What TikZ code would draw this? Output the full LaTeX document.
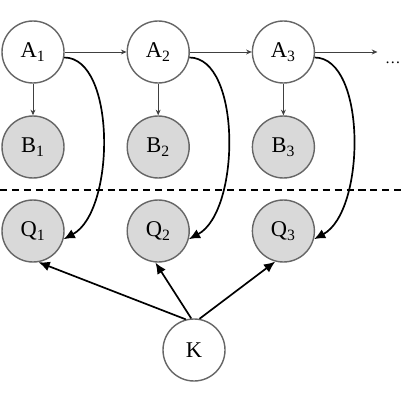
\documentclass[tikz,border=0pt]{standalone}
\usepackage{fontspec}
\setmainfont{Liberation Serif}
\usepackage{tikz}
\usetikzlibrary{positioning,arrows.meta}

\begin{document}
\begin{tikzpicture}[node distance=3.13cm,
    every node/.style={font=\fontsize{16}{18}\selectfont},
    hidden/.style={circle, draw=black!60, line width=1pt, fill=white, minimum size=1.55cm, inner sep=0pt},
    seen/.style={hidden, fill=black!15},
    thin/.style={-{Stealth[length=4pt,width=3.5pt]}, line width=0.6pt, draw=black!75},
    thick/.style={-{Latex[length=8pt,width=7pt]}, line width=1.2pt}]
        \useasboundingbox (0,0) rectangle (10.05,-10.05);
        \node[hidden]   (A1) at (0.825,-1.3)     {A\textsubscript{1}};
        \node[hidden]   (A2) [right of = A1]     {A\textsubscript{2}};
        \node[hidden]   (A3) [right of = A2]     {A\textsubscript{3}};
        \coordinate[right of = A3, node distance=2.35cm] (A4);
        \node[anchor=base east, inner sep=0pt, font=\fontsize{11}{13}\selectfont] (more) at (10.02,-1.6) {\dots};
        \node[seen]     (B1) [below of = A1, node distance=2.375cm]    {B\textsubscript{1}};
        \node[seen]     (B2) [below of = A2, node distance=2.375cm]    {B\textsubscript{2}};
        \node[seen]     (B3) [below of = A3, node distance=2.375cm]    {B\textsubscript{3}};
        \node[seen]     (Q1) [below of = B1, node distance=2.1cm]      {Q\textsubscript{1}};
        \node[seen]     (Q2) [below of = B2, node distance=2.1cm]      {Q\textsubscript{2}};
        \node[seen]     (Q3) [below of = B3, node distance=2.1cm]      {Q\textsubscript{3}};
        \node[hidden]   (K) at (4.85,-8.75)     {K};
        % observed / latent split
        \draw[dashed, dash pattern=on 5pt off 3.5pt, line width=1.2pt] (0,-4.75) -- (10.05,-4.75);
        \draw[thin] (A1) -- (A2);
        \draw[thin] (A2) -- (A3);
        \draw[thin] (A3) -- (A4);
        \draw[thin] (A1) -- (B1);
        \draw[thin] (A2) -- (B2);
        \draw[thin] (A3) -- (B3);
        \draw[thick] (A1.-10) .. controls +(1.3,0) and +(1.3,0.7) .. (Q1.-15);
        \draw[thick] (A2.-10) .. controls +(1.3,0) and +(1.3,0.7) .. (Q2.-15);
        \draw[thick] (A3.-10) .. controls +(1.3,0) and +(1.3,0.7) .. (Q3.-15);
        \draw[thick] (K.105) -- (Q1.-80);
        \draw[thick] (K.95) -- (Q2.-95);
        \draw[thick] (K.80) -- (Q3.-105);
    \end{tikzpicture}
\end{document}
